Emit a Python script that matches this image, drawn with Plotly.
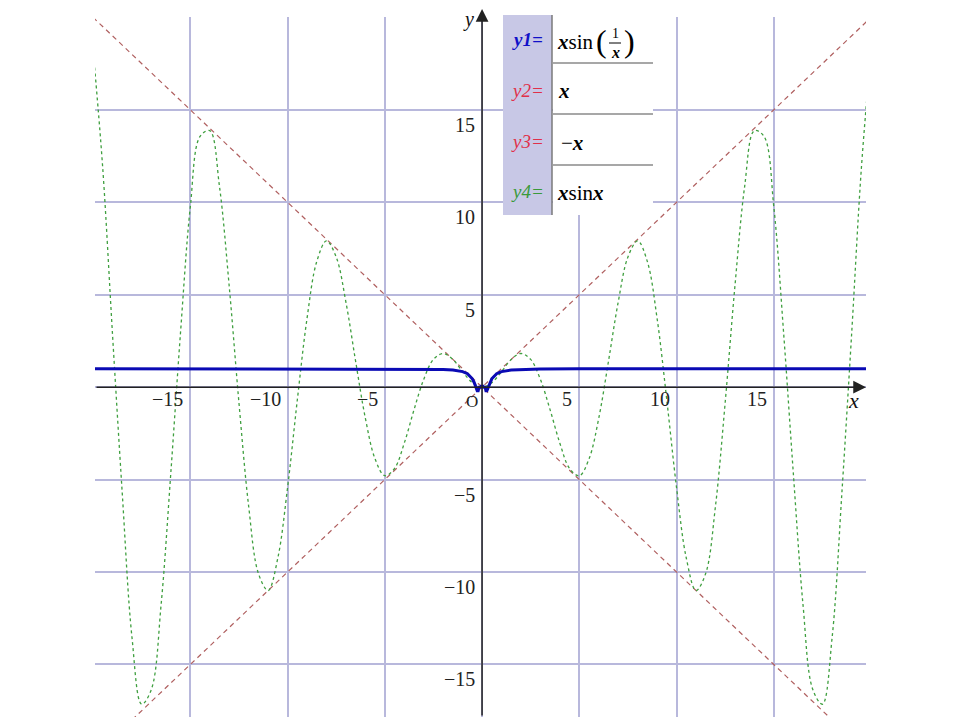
import plotly.graph_objects as go

# y4 = x sin x, read every 0.5
green_x = [
    -20.0, -19.5, -19.0, -18.5, -18.0, -17.5, -17.0, -16.5, -16.0, -15.5,
    -15.0, -14.5, -14.0, -13.5, -13.0, -12.5, -12.0, -11.5, -11.0, -10.5,
    -10.0, -9.5, -9.0, -8.5, -8.0, -7.5, -7.0, -6.5, -6.0, -5.5,
    -5.0, -4.5, -4.0, -3.5, -3.0, -2.5, -2.0, -1.5, -1.0, -0.5,
    0.0,
    0.5, 1.0, 1.5, 2.0, 2.5, 3.0, 3.5, 4.0, 4.5, 5.0,
    5.5, 6.0, 6.5, 7.0, 7.5, 8.0, 8.5, 9.0, 9.5, 10.0,
    10.5, 11.0, 11.5, 12.0, 12.5, 13.0, 13.5, 14.0, 14.5, 15.0,
    15.5, 16.0, 16.5, 17.0, 17.5, 18.0, 18.5, 19.0, 19.5, 20.0,
]
green_y = [
    18.26, 11.81, 2.85, -5.72, -13.52, -17.15, -16.34, -11.75, -4.61, 3.00,
    9.75, 13.56, 13.87, 10.85, 5.46, -0.83, -6.44, -10.07, -11.00, -9.24,
    -5.44, -0.71, 3.71, 6.79, 7.91, 7.04, 4.60, 1.40, -1.68, -3.88,
    -4.79, -4.40, -3.03, -1.23, 0.42, 1.50, 1.82, 1.50, 0.84, 0.24,
    0.0,
    0.24, 0.84, 1.50, 1.82, 1.50, 0.42, -1.23, -3.03, -4.40, -4.79,
    -3.88, -1.68, 1.40, 4.60, 7.04, 7.91, 6.79, 3.71, -0.71, -5.44,
    -9.24, -11.00, -10.07, -6.44, -0.83, 5.46, 10.85, 13.87, 13.56, 9.75,
    3.00, -4.61, -11.75, -16.34, -17.15, -13.52, -5.72, 2.85, 11.81, 18.26,
]

# y1 = x sin(1/x)
blue_x = [
    -20, -10, -5, -3, -2, -1.5, -1, -0.75, -0.5, -0.4, -0.3, -0.25, -0.2, -0.15, -0.1, -0.05,
    0.05, 0.1, 0.15, 0.2, 0.25, 0.3, 0.4, 0.5, 0.75, 1, 1.5, 2, 3, 5, 10, 20,
]
blue_y = [
    1.00, 1.00, 0.99, 0.98, 0.96, 0.93, 0.84, 0.73, 0.45, 0.24, -0.06, -0.19, -0.19, 0.06, -0.05, 0.05,
    0.05, -0.05, 0.06, -0.19, -0.19, -0.06, 0.24, 0.45, 0.73, 0.84, 0.93, 0.96, 0.98, 0.99, 1.00, 1.00,
]

# y2 = x and y3 = -x
line_x = [-20, 20]
y2_vals = [-20, 20]
y3_vals = [20, -20]

x_ticks = [-15, -10, -5, 5, 10, 15]
y_ticks = [15, 10, 5, -5, -10, -15]

legend_names = ["y1=", "y2=", "y3=", "y4="]
legend_colors = ["#1010c8", "#e0304a", "#e0304a", "#3a9a3a"]

SERIF = "Liberation Serif, Times New Roman, serif"
RED = "#b06060"
GREEN = "#3f9f3f"
BLUE = "#0a0ab4"

# the page body has an 8px margin; target plot area in screenshot pixels
OFF = 8
L, T, W, H = 95, 17, 771, 700


def px(x):
    return (x - L) / W


def py(y):
    return (T + H - y) / H


fig = go.Figure()
fig.add_trace(go.Scatter(x=line_x, y=y2_vals, mode="lines",
                         line=dict(color=RED, width=1.2, dash="5px,4px")))
fig.add_trace(go.Scatter(x=line_x, y=y3_vals, mode="lines",
                         line=dict(color=RED, width=1.2, dash="5px,4px")))
fig.add_trace(go.Scatter(x=green_x, y=green_y, mode="lines",
                         line=dict(color=GREEN, width=1.3, dash="3px,3px", shape="spline")))
fig.add_trace(go.Scatter(x=blue_x, y=blue_y, mode="lines",
                         line=dict(color=BLUE, width=3)))

shapes = [
    # legend table
    dict(type="rect", xref="paper", yref="paper", x0=px(553), x1=px(653), y0=py(215), y1=py(15),
         fillcolor="white", line=dict(width=0), layer="above"),
    dict(type="rect", xref="paper", yref="paper", x0=px(503), x1=px(552), y0=py(215), y1=py(15),
         fillcolor="#c8c8e6", line=dict(width=0), layer="above"),
    dict(type="line", xref="paper", yref="paper", x0=px(552), x1=px(552), y0=py(215), y1=py(15),
         line=dict(color="#7a7a7a", width=1.5), layer="above"),
]
for yy in (63, 114, 165):
    shapes.append(dict(type="line", xref="paper", yref="paper", x0=px(553), x1=px(653),
                       y0=py(yy), y1=py(yy), line=dict(color="#8a8a8a", width=1.5), layer="above"))
# fraction bar of 1/x
shapes.append(dict(type="line", xref="paper", yref="paper", x0=px(609), x1=px(621),
                   y0=py(43), y1=py(43), line=dict(color="black", width=1), layer="above"))

annotations = []
# axes with arrow heads
annotations.append(dict(x=19.74, y=0, xref="x", yref="y", ax=-19.9, ay=0, axref="x", ayref="y",
                        text="", showarrow=True, arrowhead=2, arrowsize=1.7, arrowwidth=1.5,
                        arrowcolor="#222"))
annotations.append(dict(x=0, y=py(4), xref="x", yref="paper", ax=0, ay=713, axref="pixel",
                        ayref="pixel", text="", showarrow=True, arrowhead=2, arrowsize=1.7,
                        arrowwidth=1.5, arrowcolor="#222"))

tick_font = dict(family=SERIF, size=20, color="#222")
for t in x_ticks:
    label = str(t).replace("-", "\u2212")
    annotations.append(dict(x=t, y=0, xref="x", yref="y", text=label, showarrow=False,
                            xanchor="right", yanchor="middle", xshift=-5, yshift=-12,
                            font=tick_font))
for t in y_ticks:
    label = str(t).replace("-", "\u2212")
    annotations.append(dict(x=0, y=t, xref="x", yref="y", text=label, showarrow=False,
                            xanchor="right", yanchor="middle", xshift=-5, yshift=-15,
                            font=tick_font))

annotations.append(dict(x=0, y=0, xref="x", yref="y", text="O", showarrow=False,
                        xanchor="center", yanchor="middle", xshift=-10, yshift=-14,
                        font=dict(family=SERIF, size=17, color="#222")))
annotations.append(dict(x=px(468), y=py(19), xref="paper", yref="paper", text="<i>y</i>",
                        showarrow=False, xanchor="center", yanchor="middle",
                        font=dict(family=SERIF, size=20, color="#111")))
annotations.append(dict(x=px(853), y=py(400), xref="paper", yref="paper", text="<i>x</i>",
                        showarrow=False, xanchor="center", yanchor="middle",
                        font=dict(family=SERIF, size=22, color="#111")))

# legend table text
row_y = [40, 90, 141, 191]
for name, col, yy in zip(legend_names, legend_colors, row_y):
    txt = "<b><i>%s</i></b>" % name if name == "y1=" else "<i>%s</i>" % name
    annotations.append(dict(x=px(527), y=py(yy), xref="paper", yref="paper", text=txt,
                            showarrow=False, xanchor="center", yanchor="middle",
                            font=dict(family=SERIF, size=19, color=col)))

expr_font = dict(family=SERIF, size=21, color="black")
expr = [
    dict(x=px(555), y=py(42), text="<b><i>x</i></b>sin", xanchor="left", font=expr_font),
    dict(x=px(601), y=py(41), text="(", xanchor="center",
         font=dict(family=SERIF, size=32, color="black")),
    dict(x=px(615), y=py(34), text="1", xanchor="center",
         font=dict(family=SERIF, size=14, color="black")),
    dict(x=px(615), y=py(52), text="<b><i>x</i></b>", xanchor="center",
         font=dict(family=SERIF, size=16, color="black")),
    dict(x=px(629), y=py(41), text=")", xanchor="center",
         font=dict(family=SERIF, size=32, color="black")),
    dict(x=px(556), y=py(91), text="<b><i>x</i></b>", xanchor="left", font=expr_font),
    dict(x=px(559), y=py(143), text="\u2212<b><i>x</i></b>", xanchor="left", font=expr_font),
    dict(x=px(555), y=py(193), text="<b><i>x</i></b>sin<b><i>x</i></b>", xanchor="left",
         font=expr_font),
]
for a in expr:
    a.update(xref="paper", yref="paper", showarrow=False, yanchor="middle")
annotations += expr

fig.update_layout(
    width=960 - OFF,
    height=720 - OFF,
    margin=dict(l=L - OFF, r=960 - L - W, t=T - OFF, b=720 - T - H),
    plot_bgcolor="white",
    paper_bgcolor="white",
    showlegend=False,
    shapes=shapes,
    annotations=annotations,
)
fig.update_xaxes(range=[-19.9, 19.74], tick0=0, dtick=5, showgrid=True, gridcolor="#b8b8dc",
                 gridwidth=1.5, zeroline=False, showticklabels=False, ticks="", showline=False)
fig.update_yaxes(range=[-17.84, 20.02], tick0=0, dtick=5, showgrid=True, gridcolor="#b8b8dc",
                 gridwidth=1.5, zeroline=False, showticklabels=False, ticks="", showline=False)

fig.write_html("out.html")
